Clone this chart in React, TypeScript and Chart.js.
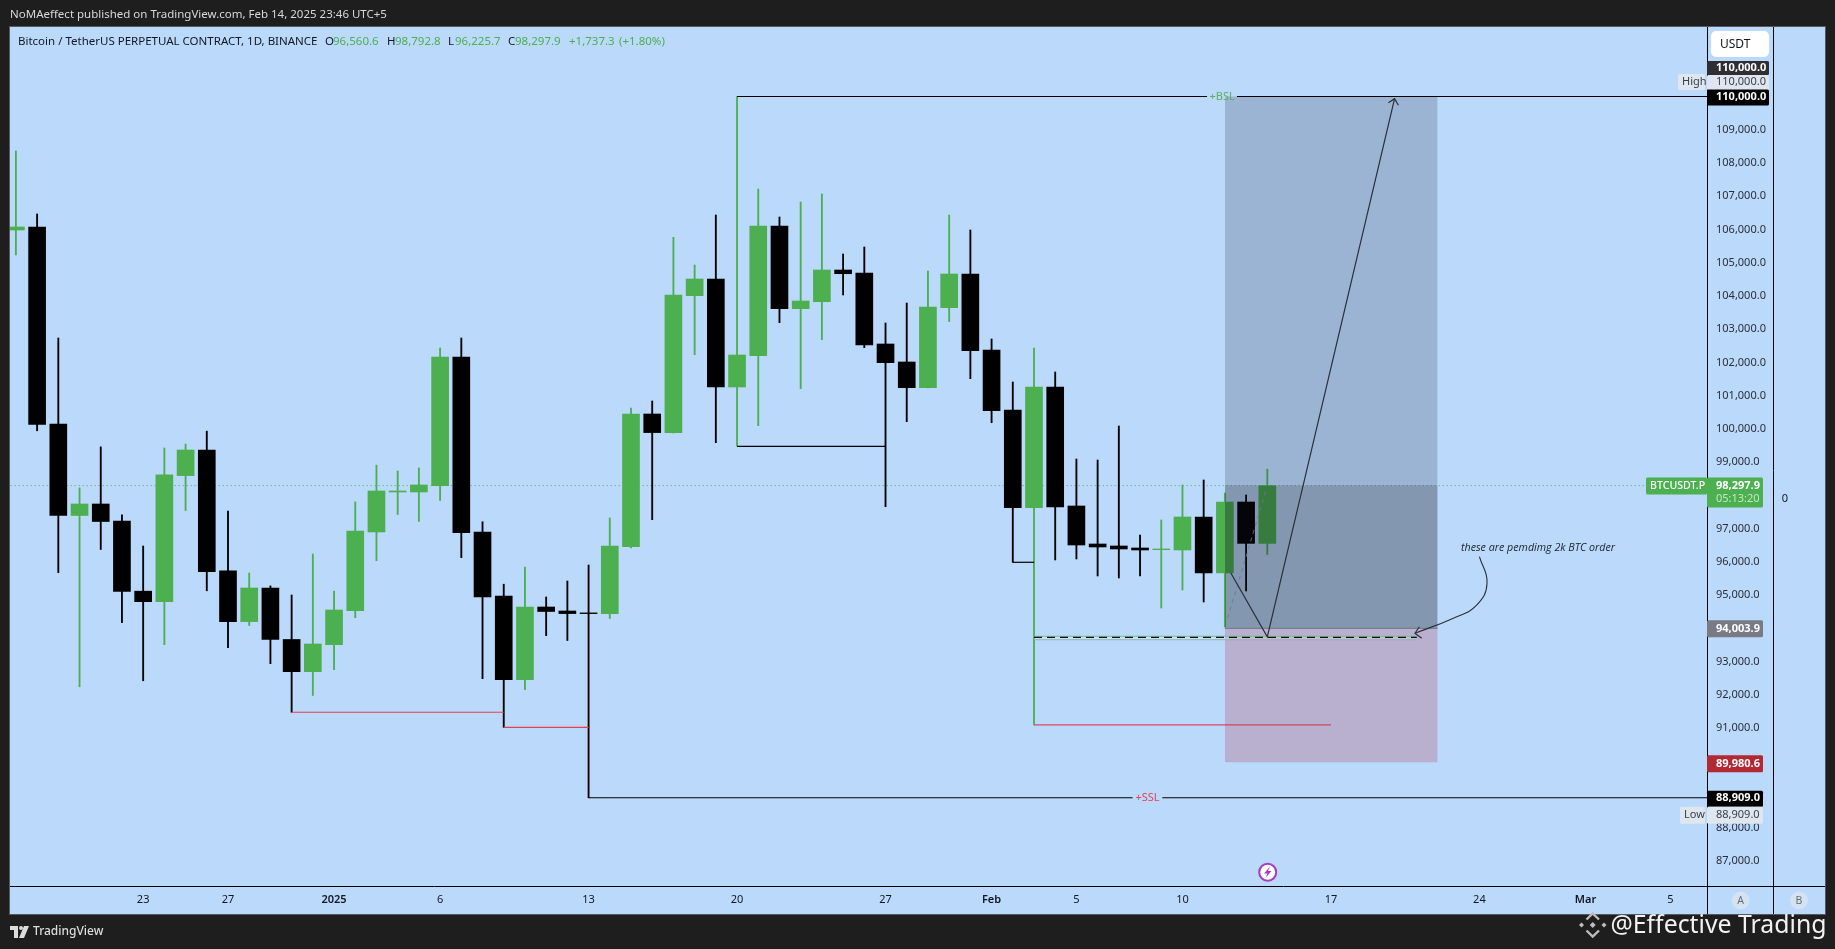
import React, { useEffect, useRef } from "react";
import { Chart, registerables } from "chart.js";

Chart.register(...registerables);

const opens = [105985,106075,100144,97398,97744,97230,95122,94806,98598,99368,95732,94207,95218,93669,92701,93513,94532,96902,98105,98105,98292,102165,96902,94977,92457,94646,94526,94469,94448,96460,100451,99892,104009,104511,101263,102204,106105,103618,103828,104782,104692,102556,102015,101242,103648,104661,102376,100571,97633,101263,97684,96541,96481,96421,96370,96361,97353,95669,97804,96560.6];
const closes = [106075,100135,97398,97744,97218,95113,94806,98619,99368,95711,94207,95218,93669,92701,93534,94556,96932,98135,98135,98316,102165,96881,94953,92457,94646,94511,94448,94448,96481,100451,99892,104030,104511,101263,102225,106105,103618,103849,104782,104670,102526,101994,101242,103669,104661,102355,100550,97633,101263,97654,96511,96451,96391,96361,96391,97353,95669,97804,96560,98297.9];
const highs = [108361,106466,102737,98228,99462,97419,96481,99428,99546,99934,97534,95669,95281,95007,96240,95122,97808,98914,98737,98830,102436,102737,97209,95332,95849,94947,95428,95910,97323,100631,100842,105765,104932,106436,110000,107218,106376,106827,107067,105263,105473,103188,103789,104752,106436,105985,102707,101413,102436,101714,99098,99067,100090,96812,97263,98316,98466,98075,98015,98792.8];
const lows = [105233,99946,95681,92246,96376,94174,92427,93513,97546,95134,93426,94090,92941,91480,91985,92764,94322,96039,97428,97218,97849,96132,92490,91025,92162,93786,93639,88909,94301,96421,97272,99880,102234,99588,99480,100099,103197,101212,102686,104030,102445,97663,100219,101233,103227,101513,100189,95991,91098,96060,96090,95579,95519,95579,94616,95158,94797,94045,95128,96225.7];

const xTickDays = [6,10,15,20,27,34,41,46,50,55,62,69,74,78];
const xTickLabels = ["23","27","2025","6","13","20","27","Feb","5","10","17","24","Mar","5"];
const boldXLabels = ["2025","Feb","Mar"];
const yTicks = [87000,88000,91000,92000,93000,95000,96000,97000,99000,100000,101000,102000,103000,104000,105000,106000,107000,108000,109000];

const lastPrice = 98297.9;
const entryPrice = 94003.9;
const stopPrice = 89980.6;
const highPrice = 110000;
const lowPrice = 88909;

const profitZone = [[57, highPrice],[67.03, highPrice]];
const openZone = [[57, lastPrice],[67.03, lastPrice]];
const stopZone = [[57, entryPrice],[67.03, entryPrice]];
const orderBoxTop = [[48, 93765],[66.05, 93765]];
const orderBoxBottom = 93663;

const lastPriceLine = [[-1, lastPrice],[80, lastPrice]];
const bslLeft = [[34, highPrice],[56.16, highPrice]];
const bslRight = [[57.57, highPrice],[80, highPrice]];
const sslLeft = [[27, lowPrice],[52.65, lowPrice]];
const sslRight = [[54.05, lowPrice],[80, lowPrice]];
const hookJan20 = [[34, 99480],[41, 99480]];
const hookFeb2 = [[47, 95991],[48, 95991]];
const redDec30 = [[13, 91480],[23, 91480]];
const redJan9 = [[23, 91025],[27, 91025]];
const redFeb3 = [[48, 91098],[62, 91098]];
const pendingOrder = [[48, 93735],[66.05, 93735]];
const entryEdge = [[57, entryPrice],[67.03, entryPrice]];
const pathArrow = [[57.28, 95670],[59, 93750],[65, 109934]];
const pathArrowWings = [[64.71, 109813],[65, 109934],[65.18, 109735]];
const dashedPath = [[57.13, 94316],[58.97, 98226]];
const noteCurve = [[69, 96160],[69.36, 95370],[68.87, 94700],[67.77, 94310],[65.96, 93855]];
const noteCurveWings = [[66.17, 94053],[65.96, 93855],[66.28, 93706]];

const FONT = '"Noto Sans", sans-serif';
const GREEN = "#4caf50";
const PANEL = "#bbd9fb";
const INK = "#131722";

const toPts = (a: number[][]) => a.map(([x, y]) => ({ x, y }));
const seg = (pts: number[][], color: string, width: number, order: number, extra: any = {}) => ({
  type: "line",
  data: toPts(pts),
  borderColor: color,
  borderWidth: width,
  pointRadius: 0,
  fill: false,
  order,
  ...extra,
});
const zone = (pts: number[][], base: number, color: string, order: number) => ({
  type: "line",
  data: toPts(pts),
  borderWidth: 0,
  borderColor: "rgba(0,0,0,0)",
  backgroundColor: color,
  pointRadius: 0,
  fill: { value: base },
  order,
});
const fmt = (v: number) => v.toLocaleString("en-US", { minimumFractionDigits: 1, maximumFractionDigits: 1 });

const chrome = {
  id: "chrome",
  beforeDraw(chart: any) {
    const c = chart.ctx;
    c.save();
    c.fillStyle = "#1e1e1e";
    c.fillRect(0, 0, 1835, 949);
    c.fillStyle = PANEL;
    c.fillRect(10, 27, 1815, 887);
    c.restore();
  },
  afterDraw(chart: any) {
    const c = chart.ctx;
    const ys = chart.scales.y;
    const xs = chart.scales.x;
    const right = chart.chartArea.right;
    const bottom = chart.chartArea.bottom;
    const text = (s: string, x: number, y: number, color: string, font: string, align: any = "left", maxWidth?: number) => {
      c.font = font;
      c.fillStyle = color;
      c.textAlign = align;
      c.textBaseline = "middle";
      if (maxWidth) c.fillText(s, x, y, maxWidth);
      else c.fillText(s, x, y);
    };
    const tag = (x0: number, y0: number, x1: number, y1: number, bg: string) => {
      c.fillStyle = bg;
      c.beginPath();
      c.roundRect(x0, y0, x1 - x0, y1 - y0, 1.5);
      c.fill();
    };
    c.save();
    // frame and panes
    c.strokeStyle = "#55585e";
    c.lineWidth = 1;
    c.strokeRect(9.5, 26.5, 1816, 888);
    c.strokeStyle = "#000";
    c.beginPath();
    c.moveTo(1773.5, 27);
    c.lineTo(1773.5, 914);
    c.moveTo(right + 0.5, bottom);
    c.lineTo(right + 0.5, 914);
    c.moveTo(right, bottom + 0.5);
    c.lineTo(1825, bottom + 0.5);
    c.stroke();

    // header and legend
    text("NoMAeffect published on TradingView.com, Feb 14, 2025 23:46 UTC+5", 10, 15, "#d8d8d8", `11.5px ${FONT}`);
    text("Bitcoin / TetherUS PERPETUAL CONTRACT, 1D, BINANCE", 18, 41.5, INK, `11.5px ${FONT}`);
    const legend: [string, number, string][] = [
      ["O", 325, INK], ["96,560.6", 333, GREEN], ["H", 387, INK], ["98,792.8", 395, GREEN],
      ["L", 448, INK], ["96,225.7", 455, GREEN], ["C", 508, INK], ["98,297.9", 515, GREEN],
      ["+1,737.3", 569, GREEN], ["(+1.80%)", 619, GREEN],
    ];
    legend.forEach(([s, x, col]) => text(s, x, 41.5, col, `11.5px ${FONT}`));

    // drawing labels
    const bslX = xs.getPixelForValue(56.87);
    const sslX = xs.getPixelForValue(53.35);
    text("+BSL", bslX, ys.getPixelForValue(highPrice), "#5cae62", `11px ${FONT}`, "center");
    text("+SSL", sslX, ys.getPixelForValue(lowPrice), "#e0455a", `11px ${FONT}`, "center");
    text("these are pemdimg 2k BTC order", 1461, 547.5, "#1b2028", `italic 500 10.7px "Open Sans", ${FONT}`);

    // price axis tags
    const bold = `bold 11px ${FONT}`;
    const reg = `11px ${FONT}`;
    c.fillStyle = "#fff";
    c.beginPath();
    c.roundRect(1711, 31, 58, 26, 5);
    c.fill();
    text("USDT", 1720, 44.5, INK, `12px ${FONT}`);

    tag(1707, 61, 1769, 75, "#2f2f33");
    text("110,000.0", 1716, 67.5, "#fff", bold);
    tag(1707, 75, 1769, 90, "#dfe6ef");
    text("110,000.0", 1716, 82, "#3c4048", reg);
    tag(1678, 74, 1705, 90, "#dfe6ef");
    text("High", 1682, 82, "#3c4048", reg);
    const hiY = ys.getPixelForValue(highPrice);
    tag(1707, hiY - 7, 1769, hiY + 9, "#000");
    text("110,000.0", 1716, hiY + 0.5, "#fff", bold);

    const lastY = ys.getPixelForValue(lastPrice);
    tag(1646, lastY - 8, 1707, lastY + 9, GREEN);
    text("BTCUSDT.P", 1650, lastY + 0.5, "#fff", `500 10.6px ${FONT}`);
    tag(1707, lastY - 8, 1763, lastY + 22, GREEN);
    text(fmt(lastPrice), 1716, lastY + 0.5, "#fff", bold);
    text("05:13:20", 1716, lastY + 13.5, "#c2e6c4", reg);
    text("0", 1785, lastY + 13.5, INK, reg, "center");

    const entryY = ys.getPixelForValue(entryPrice);
    tag(1707, entryY - 8, 1763, entryY + 9, "#787b86");
    text(fmt(entryPrice), 1716, entryY + 0.5, "#fff", bold);

    const stopY = ys.getPixelForValue(stopPrice);
    tag(1707, stopY - 7, 1763, stopY + 10, "#b22833");
    text(fmt(stopPrice), 1716, stopY + 1.5, "#fff", bold);

    const loY = ys.getPixelForValue(lowPrice);
    tag(1707, loY - 7, 1763, loY + 9, "#000");
    text(fmt(lowPrice), 1716, loY + 0.5, "#fff", bold);
    tag(1707, loY + 9, 1763, loY + 26, "#dfe6ef");
    text(fmt(lowPrice), 1716, loY + 17.5, "#3c4048", reg);
    tag(1680, loY + 9, 1705, loY + 26, "#dfe6ef");
    text("Low", 1684, loY + 17.5, "#3c4048", reg);

    // scale buttons
    [[1740.7, "A"], [1799, "B"]].forEach(([x, s]: any) => {
      c.fillStyle = "#d4e2f1";
      c.beginPath();
      c.arc(x, 900.5, 9, 0, Math.PI * 2);
      c.fill();
      text(s, x, 901, "#6a6d78", `10.5px ${FONT}`, "center");
    });

    // event marker
    c.fillStyle = "#fff";
    c.strokeStyle = "#a33fb8";
    c.lineWidth = 2;
    c.beginPath();
    c.arc(1267.7, 872.3, 8.5, 0, Math.PI * 2);
    c.fill();
    c.stroke();
    c.fillStyle = "#a33fb8";
    c.beginPath();
    c.moveTo(1270, 866.5);
    c.lineTo(1264, 873.5);
    c.lineTo(1267.5, 873.5);
    c.lineTo(1265.5, 878);
    c.lineTo(1271.5, 871);
    c.lineTo(1268, 871);
    c.closePath();
    c.fill();

    // footer
    c.fillStyle = "#dcdcdc";
    c.fillRect(10, 926, 8, 4);
    c.fillRect(14, 926, 4, 12);
    c.beginPath();
    c.arc(21, 928, 2, 0, Math.PI * 2);
    c.fill();
    c.beginPath();
    c.moveTo(24, 926);
    c.lineTo(29, 926);
    c.lineTo(24, 938);
    c.lineTo(19, 938);
    c.closePath();
    c.fill();
    text("TradingView", 33, 932, "#dcdcdc", `500 12px ${FONT}`);

    c.fillStyle = "#bdbdbd";
    const diamond = (x: number, y: number, r: number) => {
      c.beginPath();
      c.moveTo(x, y - r);
      c.lineTo(x + r, y);
      c.lineTo(x, y + r);
      c.lineTo(x - r, y);
      c.closePath();
      c.fill();
    };
    diamond(1592.7, 925, 3);
    diamond(1581.5, 925, 2.5);
    diamond(1604, 925, 2.5);
    c.strokeStyle = "#bdbdbd";
    c.lineWidth = 2.4;
    c.beginPath();
    c.moveTo(1586.5, 919.5);
    c.lineTo(1592.7, 913.5);
    c.lineTo(1599, 919.5);
    c.moveTo(1586.5, 930.5);
    c.lineTo(1592.7, 936.5);
    c.lineTo(1599, 930.5);
    c.stroke();
    text("@Effective Trading", 1610.5, 926, "#f2f2f2", `25px ${FONT}`, "left", 216);
    c.restore();
  },
};

export default function App() {
  const ref = useRef<HTMLCanvasElement | null>(null);
  useEffect(() => {
    if (!ref.current) return;
    const isUp = (i: number) => closes[i] >= opens[i];
    const barColors = opens.map((_, i) => (isUp(i) ? GREEN : "#000"));
    const chart = new Chart(ref.current, {
      type: "bar",
      plugins: [chrome],
      data: {
        datasets: [
          seg(lastPriceLine, GREEN, 1, 20, { borderDash: [1, 3] }),
          {
            type: "bar",
            data: highs.map((h, i) => ({ x: i, y: [lows[i], h] })),
            backgroundColor: barColors,
            barThickness: 1.2,
            grouped: false,
            order: 19,
          },
          {
            type: "bar",
            data: opens.map((o, i) => ({ x: i, y: [o, closes[i]] })),
            backgroundColor: barColors,
            barThickness: 17,
            grouped: false,
            order: 18,
          },
          seg(bslLeft, "#000", 1.2, 17),
          seg(bslRight, "#000", 1.2, 17),
          seg(sslLeft, "#000", 1.2, 17),
          seg(sslRight, "#000", 1.2, 17),
          seg(hookJan20, "#000", 1.2, 17),
          seg(hookFeb2, "#000", 1.2, 17),
          seg(redDec30, "#e5404f", 1.2, 17),
          seg(redJan9, "#e5404f", 1.2, 17),
          seg(redFeb3, "#dc4a5e", 1.2, 17),
          zone(profitZone, entryPrice, "rgba(37,37,56,0.2)", 10),
          zone(openZone, entryPrice, "rgba(0,0,0,0.16)", 9),
          zone(stopZone, stopPrice, "rgba(180,50,70,0.25)", 8),
          seg(orderBoxTop, "#6fc08a", 1, 7, { backgroundColor: "rgba(255,255,255,0.18)", fill: { value: orderBoxBottom } }),
          seg([[orderBoxTop[0][0], orderBoxBottom], [orderBoxTop[1][0], orderBoxBottom]], "#8fa6a8", 1, 7),
          seg(pendingOrder, "#0d1116", 1.2, 6, { borderDash: [8, 5] }),
          seg(entryEdge, "#6f7884", 1, 6),
          seg(dashedPath, "rgba(110,120,135,0.85)", 1, 5, { borderDash: [4, 4] }),
          seg(pathArrow, "#2a2f38", 1.2, 4),
          seg(pathArrowWings, "#2a2f38", 1.2, 4),
          seg(noteCurve, "#2a2f38", 1.1, 4, { tension: 0.45 }),
          seg(noteCurveWings, "#2a2f38", 1.1, 4),
        ] as any,
      },
      options: {
        responsive: false,
        animation: false,
        devicePixelRatio: 1,
        events: [],
        layout: { padding: { left: 10, top: 27, right: 62, bottom: 35 } },
        plugins: { legend: { display: false }, tooltip: { enabled: false }, title: { display: false } },
        scales: {
          x: {
            type: "linear",
            offset: false,
            min: -0.278,
            max: 79.73,
            grid: { display: false, drawTicks: false },
            border: { color: "#000", width: 1 },
            afterFit: (s: any) => { s.height = 28; },
            afterBuildTicks: (s: any) => { s.ticks = xTickDays.map((value) => ({ value })); },
            ticks: {
              autoSkip: false,
              maxRotation: 0,
              padding: 7,
              color: INK,
              font: (ctx: any) => {
                const label = xTickLabels[xTickDays.indexOf(ctx.tick?.value)];
                return { family: FONT, size: 11, weight: boldXLabels.includes(label) ? "600" : "400" };
              },
              callback: (v: any) => xTickLabels[xTickDays.indexOf(v)] ?? "",
            },
          },
          y: {
            type: "linear",
            position: "right",
            min: 86255,
            max: 112090,
            grid: { display: false, drawTicks: false },
            border: { color: "#000", width: 1 },
            afterFit: (s: any) => { s.width = 66; },
            afterBuildTicks: (s: any) => { s.ticks = yTicks.map((value) => ({ value })); },
            ticks: {
              padding: 9,
              color: "#2a2e39",
              font: { family: FONT, size: 11 },
              callback: (v: any) => fmt(Number(v)),
            },
          },
        },
      } as any,
    } as any);
    return () => chart.destroy();
  }, []);
  return (
    <div style={{ position: "fixed", inset: 0, background: "#1e1e1e", overflow: "hidden" }}>
      <canvas ref={ref} width={1835} height={949} style={{ display: "block", width: 1835, height: 949 }} />
    </div>
  );
}
